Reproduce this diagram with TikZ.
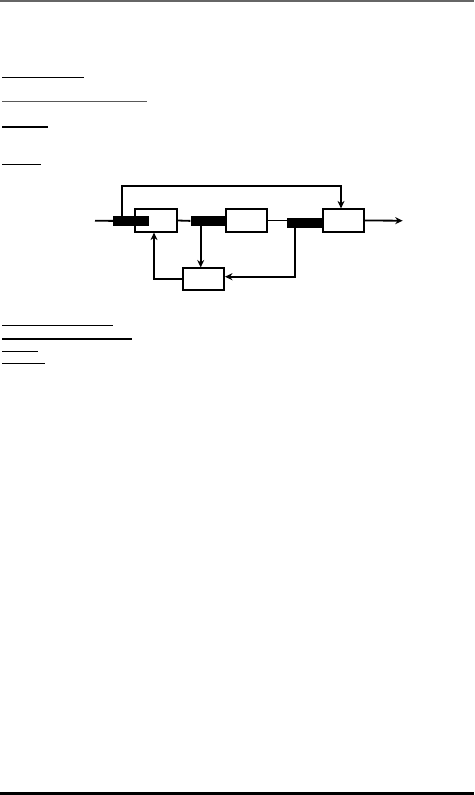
\documentclass[tikz,border=0pt]{standalone}
\usetikzlibrary{arrows.meta}
\begin{document}
\begin{tikzpicture}[x=1pt,y=-1pt,
  wire/.style={line width=1.8pt},
  arr/.style={wire,-{Stealth[length=7.5pt,width=7pt]}},
  blk/.style={draw,line width=1.8pt,fill=white,inner sep=0pt,minimum width=41pt,minimum height=22.4pt},
  bar/.style={fill=black,inner sep=0pt,minimum width=35.5pt,minimum height=10.3pt},
  rule/.style={line width=1.5pt}]
\useasboundingbox (0,0) rectangle (474,795);
% page rules
\draw[line width=2.2pt,gray!80!black] (0,1) -- (474,1);
\draw[line width=3pt] (0,793.5) -- (474,793.5);
% underline rules
\draw[rule] (2,77.3) -- (84,77.3);
\draw[line width=1pt,gray!70!black] (2,101.7) -- (147,101.7);
\draw[rule] (2,127) -- (48,127);
\draw[rule] (2,164.3) -- (41,164.3);
\draw[rule] (2,325.7) -- (113,325.7);
\draw[line width=2.2pt] (2,338.7) -- (132,338.7);
\draw[rule] (2,351.3) -- (38,351.3);
\draw[rule] (2,363.3) -- (45,363.3);
% boxes
\node[blk,minimum width=41.7pt] (b1) at (155.8,220.5) {};
\node[blk,minimum width=40.7pt] (b2) at (246.3,220.5) {};
\node[blk] (b3) at (343.2,220.5) {};
\node[blk,minimum width=40.7pt,minimum height=21.7pt] (b4) at (203.7,279.2) {};
% black bars
\node[bar] (r1) at (131.2,220.9) {};
\node[bar] (r2) at (208.3,220.9) {};
\node[bar,minimum width=36pt,minimum height=10pt] (r3) at (304.7,222.7) {};
% coordinates
\coordinate (in) at (95,220.7);
\coordinate (out) at (402.7,220.7);
\coordinate (k1) at (121.7,186);
\coordinate (k2) at (341,186);
\coordinate (a2) at (200.7,250);
\coordinate (k3) at (295,276.7);
\coordinate (k4) at (154,279.3);
% connectors
\draw[wire] (in) -- (r1.west);
\draw[arr] (b3.east) -- (out);
\draw[wire] (b1.east) -- (r2.west);
\draw[wire] (b2.east) -- (r3.west |- b2.east);
\draw[arr] (r1.north -| k1) -- (k1) -- (k2) -- (b3.north -| k2);
\draw[arr] (r2.south -| a2) -- (b4.north -| a2);
\draw[arr] (r3.south -| k3) -- (k3) -- (b4.east |- k3);
\draw[arr] (b4.west |- k4) -- (k4) -- (b1.south -| k4);
\end{tikzpicture}
\end{document}
